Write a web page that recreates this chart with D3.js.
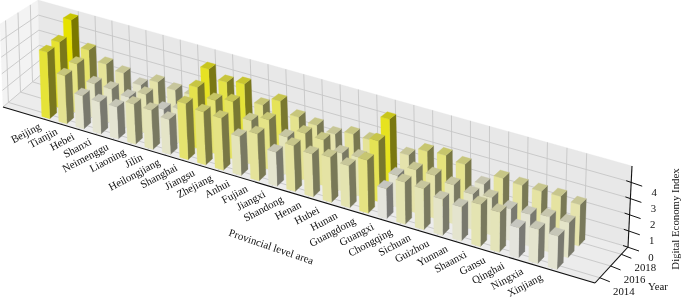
<!DOCTYPE html>
<html>
<head>
<meta charset="utf-8">
<script src="https://cdn.jsdelivr.net/npm/d3@7"></script>
<style>
  html, body { margin: 0; padding: 0; background: white; }
  text { font-family: "Liberation Serif", serif; fill: #111; }
</style>
</head>
<body>
<div id="vis"></div>
<script>
// values
const provinces = ['Beijing','Tianjin','Hebei','Shanxi','Neimenggu','Liaoning','Jilin','Heilongjiang','Shanghai','Jiangsu','Zhejiang','Anhui','Fujian','Jiangxi','Shandong','Henan','Hubei','Hunan','Guangdong','Guangxi','Chongqing','Sichuan','Guizhou','Yunnan','Shaanxi','Gansu','Qinghai','Ningxia','Xinjiang'];
const years = ['2014','2016','2018'];
const zTicks = [0,1,2,3,4];

const v2014 = [3.99,2.88,1.97,1.91,1.90,2.37,2.31,2.07,3.30,3.12,3.05,2.28,2.74,1.98,2.67,2.50,2.61,2.43,3.06,1.73,2.42,2.36,2.07,1.95,2.41,2.29,1.72,1.95,1.89];
const v2016 = [4.09,3.04,2.12,2.10,1.91,2.39,1.78,2.09,3.73,3.25,3.48,2.64,3.00,2.28,2.82,2.74,2.26,2.32,3.62,1.89,2.54,2.54,2.30,2.08,2.20,1.86,1.87,2.05,2.05];
const v2018 = [4.96,3.35,2.77,2.51,2.06,2.56,2.37,2.37,4.31,3.81,4.00,3.01,3.57,2.90,2.72,2.49,2.81,2.77,4.37,2.50,3.06,3.14,2.92,2.04,2.74,2.65,2.62,2.65,2.49];
const valuesByYear = [v2014, v2016, v2018];

const width = 685, height = 298;

let svg = d3.select('#vis')
  .append('svg')
  .attr('width', width)
  .attr('height', height)
  .style('display', 'block')
  .style('background-color', 'white')
  .style('filter', 'blur(0.3px)');

// box corners on screen: floor and top of the box
const floorQuad = [[3,107],[595,283],[628,247],[40,75.5]];
const topQuad = [[0,24],[599,195],[632,166],[38,0]];

// unit square -> quad homography
function squareToQuad(q) {
  let [x0,y0] = q[0], [x1,y1] = q[1], [x2,y2] = q[2], [x3,y3] = q[3];
  let dx1 = x1-x2, dx2 = x3-x2, sx = x0-x1+x2-x3;
  let dy1 = y1-y2, dy2 = y3-y2, sy = y0-y1+y2-y3;
  let den = dx1*dy2 - dx2*dy1;
  let g = (sx*dy2 - dx2*sy)/den, h = (dx1*sy - sx*dy1)/den;
  let a = x1-x0+g*x1, b = x3-x0+h*x3, d = y1-y0+g*y1, e = y3-y0+h*y3;
  return (u, v) => {
    let w = g*u + h*v + 1;
    return [(a*u + b*v + x0)/w, (d*u + e*v + y0)/w];
  };
}
const floorH = squareToQuad(floorQuad), topH = squareToQuad(topQuad);

// u along provinces, v along years, t up the value axis (all 0..1)
function project(u, v, t) {
  let f = floorH(u, v), c = topH(u, v);
  return [f[0] + (c[0]-f[0])*t, f[1] + (c[1]-f[1])*t];
}

const xScale = d3.scaleBand().domain(provinces).range([0.067,0.9375]).paddingInner(0.53);
const yScale = d3.scaleBand().domain(years).range([0.05,0.89]).paddingInner(0.42);
const zScale = d3.scaleLinear().domain([0,5]).range([0,1]);

// low values are grey-white, high values go to full yellow
const colorR = d3.scaleLinear().domain([1.7,4.85]).range([228,230]).clamp(true);
const colorG = d3.scaleLinear().domain([1.7,4.85]).range([228,226]).clamp(true);
const colorB = d3.scaleLinear().domain([1.7,2.5,3,4,4.85]).range([222,172,135,55,0]).clamp(true);
function faceColor(val, k) {
  return d3.rgb(colorR(val)*k, colorG(val)*k, colorB(val)*k).formatHex();
}

const pathOf = pts => 'M' + pts.map(p => p[0].toFixed(2) + ',' + p[1].toFixed(2)).join('L') + 'Z';
function face(g, pts, fill) {
  g.append('path').attr('d', pathOf(pts)).attr('fill', fill).attr('stroke', fill).attr('stroke-width', 0.3);
}
function seg(g, a, b, stroke, w) {
  g.append('line')
    .attr('x1', a[0]).attr('y1', a[1])
    .attr('x2', b[0]).attr('y2', b[1])
    .attr('stroke', stroke).attr('stroke-width', w);
}
const xMid = d => xScale(d) + xScale.bandwidth()/2;
const yMid = d => yScale(d) + yScale.bandwidth()/2;

// walls and floor
let box = svg.append('g');
face(box, [project(0,0,0),project(0,1,0),project(0,1,1),project(0,0,1)], '#f3f3f3');
face(box, [project(0,1,0),project(1,1,0),project(1,1,1),project(0,1,1)], '#e8e8e8');
face(box, [project(0,0,0),project(1,0,0),project(1,1,0),project(0,1,0)], '#ececec');

// grid
const gridColor = '#c6c6c6';
provinces.forEach(p => {
  seg(box, project(xMid(p),0,0), project(xMid(p),1,0), gridColor, 0.9);
  seg(box, project(xMid(p),1,0), project(xMid(p),1,1), gridColor, 0.9);
});
years.forEach(y => {
  seg(box, project(0,yMid(y),0), project(1,yMid(y),0), gridColor, 0.9);
  seg(box, project(0,yMid(y),0), project(0,yMid(y),1), gridColor, 0.9);
});
zTicks.forEach(z => {
  seg(box, project(0,0,zScale(z)), project(0,1,zScale(z)), gridColor, 0.9);
  seg(box, project(0,1,zScale(z)), project(1,1,zScale(z)), gridColor, 0.9);
});

// bars: back row first, left to right
let bars = svg.append('g');
for (let r = years.length - 1; r >= 0; r--) {
  let y0 = yScale(years[r]), y1 = y0 + yScale.bandwidth();
  provinces.forEach((name, i) => {
    let val = valuesByYear[r][i];
    let x0 = xScale(name), x1 = x0 + xScale.bandwidth(), t = zScale(val);
    face(bars, [project(x1,y0,0),project(x1,y1,0),project(x1,y1,t),project(x1,y0,t)], faceColor(val, 0.53));
    face(bars, [project(x0,y0,0),project(x1,y0,0),project(x1,y0,t),project(x0,y0,t)], faceColor(val, 1));
    face(bars, [project(x0,y0,t),project(x1,y0,t),project(x1,y1,t),project(x0,y1,t)], faceColor(val, 0.87));
  });
}

// axis lines and ticks
let axes = svg.append('g');
seg(axes, project(0,0,0), project(1,0,0), '#111', 1.1);
seg(axes, project(1,0,0), project(1,1,0), '#111', 1.1);
seg(axes, project(1,1,0), project(1,1,1), '#111', 1.1);
years.forEach(y => {
  let a = project(1,yMid(y),0);
  seg(axes, a, [a[0]+10,a[1]+4], '#111', 1);
});
zTicks.forEach(z => {
  let a = project(1,1,zScale(z));
  seg(axes, [a[0]-5,a[1]-1.5], [a[0]+11,a[1]+4], '#111', 1);
});

// labels
const fontSize = 10.8;
provinces.forEach(p => {
  let u = xMid(p), a = project(u,0,0);
  svg.append('text')
    .attr('transform', `translate(${a[0]-2-6*u},${a[1]+9.5}) rotate(-28)`)
    .attr('text-anchor', 'end')
    .attr('font-size', fontSize)
    .text(p);
});
zTicks.forEach(z => {
  let a = project(1,1,zScale(z));
  svg.append('text').attr('x', a[0]+23).attr('y', a[1]+13.5)
    .attr('text-anchor', 'middle').attr('font-size', fontSize).text(z);
});
years.forEach(y => {
  let a = project(1,yMid(y),0);
  svg.append('text').attr('x', a[0]+24).attr('y', a[1]+17)
    .attr('text-anchor', 'middle').attr('font-size', fontSize).text(y);
});
svg.append('text')
  .attr('transform', 'translate(270,250) rotate(19)')
  .attr('text-anchor', 'middle').attr('font-size', fontSize).text('Provincial level area');
svg.append('text').attr('x', 658).attr('y', 290)
  .attr('text-anchor', 'middle').attr('font-size', fontSize).text('Year');
svg.append('text')
  .attr('transform', 'translate(679,219) rotate(-90)')
  .attr('text-anchor', 'middle').attr('font-size', fontSize).text('Digital Economy Index');
</script>
</body>
</html>
